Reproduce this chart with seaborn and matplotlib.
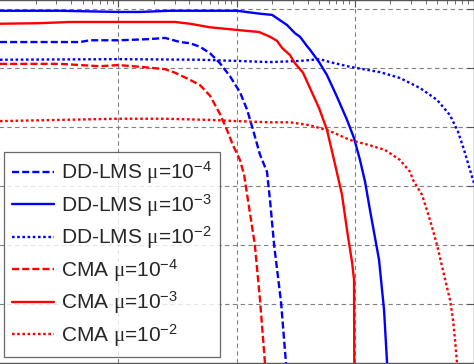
import numpy as np
import pandas as pd
import matplotlib
matplotlib.use('Agg')
import matplotlib.pyplot as plt
import seaborn as sns
from matplotlib.ticker import LogLocator, NullFormatter

#####################
# data
#####################
labels = ['DD-LMS $\\mu$=10$^{-4}$', 'DD-LMS $\\mu$=10$^{-3}$', 'DD-LMS $\\mu$=10$^{-2}$',
          'CMA $\\mu$=10$^{-4}$', 'CMA $\\mu$=10$^{-3}$', 'CMA $\\mu$=10$^{-2}$']

# DD-LMS mu=1e-4 (dashed blue)
dd4_x = [1, 4.75, 5.77, 10.3, 18.5, 24.9, 33.3, 40.4, 49.1, 59.7, 72.5, 88.1, 107, 123,
         138, 158, 181, 192, 208, 238, 262, 267]
dd4_y = [5.44, 5.44, 5.47, 5.47, 5.49, 5.51, 5.44, 5.42, 5.36, 5.25, 5.08, 4.86, 4.59, 4.29,
         3.95, 3.53, 3.24, 2.76, 2.00, 1.03, 0.0, -0.29]

# DD-LMS mu=1e-3 (solid blue)
dd3_x = [1, 3.22, 10, 15.3, 27.4, 101, 158, 200, 233, 267, 312, 344, 395, 418, 499, 582,
         708, 860, 986, 1107, 1222, 1345, 1603, 1768, 1875, 1911]
dd3_y = [5.97, 5.97, 5.95, 5.95, 5.97, 5.97, 5.92, 5.90, 5.81, 5.73, 5.59, 5.53, 5.37, 5.31,
         5.10, 4.88, 4.51, 4.12, 3.81, 3.44, 3.07, 2.59, 1.75, 0.90, 0.0, -0.29]

# DD-LMS mu=1e-2 (dotted blue)
dd2_x = [1, 10, 49.1, 101, 192, 344, 508, 618, 912, 1636, 2415, 3564, 4962, 6386, 7464,
         8395, 10000, 11020]
dd2_y = [5.14, 5.15, 5.14, 5.12, 5.10, 5.12, 5.15, 5.10, 5.02, 4.93, 4.83, 4.66, 4.46, 4.20,
         3.92, 3.61, 3.10, 2.85]

# CMA mu=1e-4 (dashed red)
cma4_x = [1, 3.22, 7.01, 10, 15.3, 24.9, 30.2, 40.4, 49.1, 59.7, 72.5, 83.1, 93.4, 107,
          116, 125, 143, 158, 174, 178]
cma4_y = [5.07, 5.07, 5.03, 5.05, 5.02, 4.98, 4.92, 4.80, 4.71, 4.53, 4.22, 3.95, 3.69, 3.44,
          3.19, 2.76, 2.00, 1.07, 0.0, -0.29]

# CMA mu=1e-3 (solid red)
cma3_x = [1, 2.18, 3.91, 10, 30.2, 40.4, 59.7, 107, 155, 192, 220, 243, 283, 312, 365, 418,
          499, 582, 668, 736, 780, 860, 948, 986, 990, 995]
cma3_y = [5.75, 5.76, 5.78, 5.78, 5.78, 5.75, 5.69, 5.64, 5.61, 5.53, 5.46, 5.34, 5.22, 5.08,
          4.92, 4.66, 4.32, 3.95, 3.44, 3.07, 2.85, 2.25, 1.71, 1.41, 0.0, -0.29]

# CMA mu=1e-2 (dotted red)
cma2_x = [1, 10, 24.9, 59.7, 101, 192, 283, 418, 618, 912, 1345, 1803, 2415, 2933, 3111,
          3706, 4330, 4962, 5688, 6386, 6776, 7041, 7320, 7464]
cma2_y = [4.10, 4.14, 4.14, 4.12, 4.10, 4.08, 4.08, 4.03, 3.93, 3.78, 3.69, 3.61, 3.44, 3.24,
          3.10, 2.85, 2.42, 2.00, 1.49, 1.07, 0.73, 0.39, 0.0, -0.29]

series = [(dd4_x, dd4_y), (dd3_x, dd3_y), (dd2_x, dd2_y),
          (cma4_x, cma4_y), (cma3_x, cma3_y), (cma2_x, cma2_y)]

frames = []
for lab, (xs, ys) in zip(labels, series):
    frames.append(pd.DataFrame({'x': xs, 'y': ys, 'curve': lab}))
df = pd.concat(frames, ignore_index=True)

colors = ['#0000ff', '#0000ff', '#0000ff', '#ff0000', '#ff0000', '#ff0000']
dash_styles = [(3, 1.3), '', (1.1, 1.1), (3, 1.3), '', (1.1, 1.1)]

#####################
# plot
#####################
sns.set_style('white')
plt.rcParams['font.family'] = ['Liberation Sans', 'DejaVu Sans']
plt.rcParams['mathtext.fontset'] = 'custom'
plt.rcParams['mathtext.rm'] = 'Liberation Sans'
plt.rcParams['mathtext.it'] = 'Liberation Serif'

fig = plt.figure(figsize=(4.74, 3.64), dpi=100)
ax = fig.add_axes([-2.4 / 474, 1 / 364, 476.4 / 474, 363 / 364])

sns.lineplot(data=df, x='x', y='y', hue='curve', style='curve',
             hue_order=labels, style_order=labels,
             palette=dict(zip(labels, colors)), dashes=dict(zip(labels, dash_styles)),
             estimator=None, sort=False, linewidth=1.7, ax=ax)

ax.set_xscale('log')
ax.set_xlim(10 ** -0.02, 10 ** 4.008)
ax.set_ylim(0, 363 / 59)
ax.set_xticks([1e1, 1e2, 1e3])
ax.xaxis.set_minor_locator(LogLocator(base=10, subs=np.arange(2, 10), numticks=20))
ax.xaxis.set_minor_formatter(NullFormatter())
ax.set_yticks([1, 2, 3, 4, 5, 6])
ax.set_xticklabels([])
ax.set_yticklabels([])
ax.set_xlabel('')
ax.set_ylabel('')

ax.grid(True, which='major', linestyle=(0, (4, 3)), color='#808080', linewidth=0.8)
ax.tick_params(which='both', direction='in', top=True, right=True, colors='#555555')
ax.tick_params(which='major', length=5, width=0.8)
ax.tick_params(which='minor', length=3, width=0.6)
for sp in ax.spines.values():
    sp.set_color('#555555')
    sp.set_linewidth(1.0)

handles, labs = ax.get_legend_handles_labels()
leg = ax.legend(handles, labs, loc='lower left', bbox_to_anchor=(6 / 474, 6 / 364),
                borderaxespad=0, fontsize=15, handlelength=2.0, handletextpad=0.35,
                labelspacing=0.3, borderpad=0.4, frameon=True, fancybox=False)
leg.get_frame().set_edgecolor('#444444')
leg.get_frame().set_linewidth(0.9)

fig.savefig('out.png', dpi=100)
